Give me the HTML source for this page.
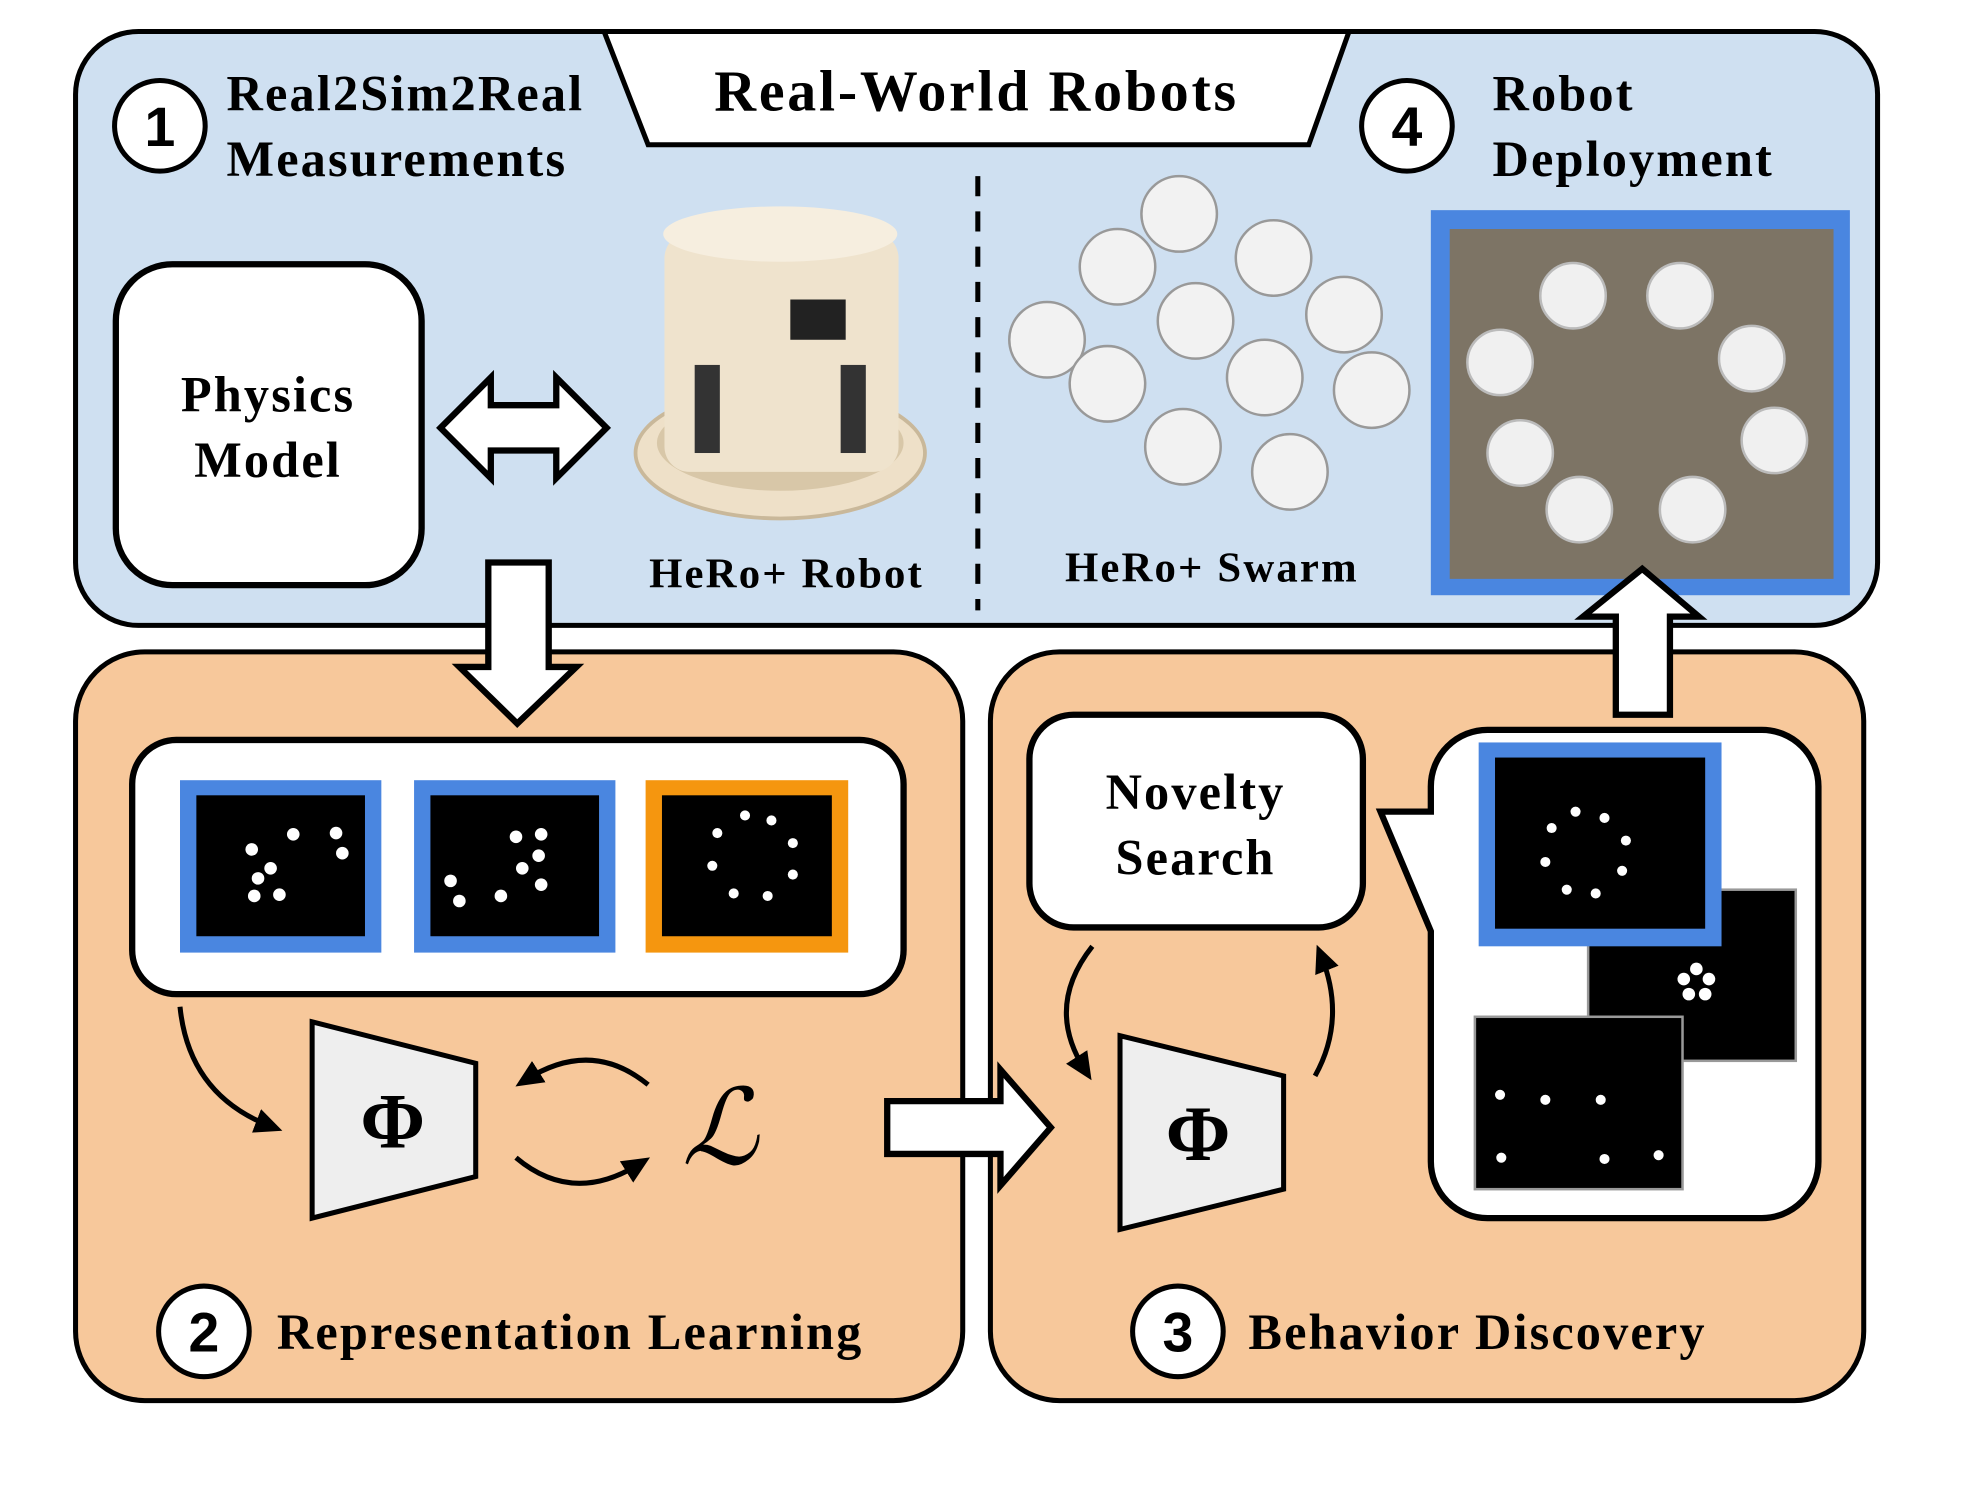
<!DOCTYPE html>
<html><head><meta charset="utf-8"><style>html,body{margin:0;padding:0;background:#fff}svg{display:block}text{letter-spacing:1.7px}</style></head>
<body>
<svg width="1972" height="1500" viewBox="0 0 1567 1192" xmlns="http://www.w3.org/2000/svg" font-family="'Liberation Serif',serif" font-weight="bold">
<defs>
<marker id="ah" markerWidth="22" markerHeight="20" refX="12" refY="10" orient="auto" markerUnits="userSpaceOnUse" viewBox="0 0 22 20"><path d="M0,0 L22,10 L0,20 Z" fill="#000"/></marker>
</defs>
<rect width="1567" height="1192" fill="#fff"/>
<!-- top panel -->
<rect x="60" y="25" width="1432" height="472" rx="50" fill="#cfe0f1" stroke="#000" stroke-width="4"/>
<polygon points="480,25 1072,25 1040,115 515,115" fill="#fff" stroke="#000" stroke-width="4"/>
<text x="776" y="88" font-size="46" text-anchor="middle" style="letter-spacing:2.2px">Real-World Robots</text>
<circle cx="127" cy="100" r="36" fill="#fff" stroke="#000" stroke-width="4"/>
<text x="127" y="116" font-size="44" text-anchor="middle" font-family="'Liberation Sans',sans-serif" style="letter-spacing:0">1</text>
<text x="180" y="88" font-size="40">Real2Sim2Real</text>
<text x="180" y="140" font-size="40">Measurements</text>
<circle cx="1118" cy="100" r="36" fill="#fff" stroke="#000" stroke-width="4"/>
<text x="1118" y="116" font-size="44" text-anchor="middle" font-family="'Liberation Sans',sans-serif" style="letter-spacing:0">4</text>
<text x="1186" y="88" font-size="40">Robot</text>
<text x="1186" y="140" font-size="40">Deployment</text>
<rect x="92" y="210" width="243" height="255" rx="45" fill="#fff" stroke="#000" stroke-width="5"/>
<text x="213" y="327" font-size="40" text-anchor="middle">Physics</text>
<text x="213" y="379" font-size="40" text-anchor="middle">Model</text>
<polygon points="350,340 390,300 390,322 442,322 442,300 482,340 442,380 442,358 390,358 390,380" fill="#fff" stroke="#000" stroke-width="5"/>
<!-- robot -->
<ellipse cx="620" cy="360" rx="115" ry="52" fill="#eee0c8" stroke="#c9b89a" stroke-width="3"/>
<ellipse cx="620" cy="352" rx="98" ry="38" fill="#d8c7a8"/>
<rect x="528" y="185" width="186" height="190" rx="20" fill="#efe3cd"/>
<ellipse cx="620" cy="186" rx="93" ry="22" fill="#f6eedf"/>
<rect x="552" y="290" width="20" height="70" fill="#333"/>
<rect x="668" y="290" width="20" height="70" fill="#333"/>
<rect x="628" y="238" width="44" height="32" fill="#222"/>
<text x="625" y="467" font-size="34" text-anchor="middle">HeRo+ Robot</text>
<line x1="777" y1="140" x2="777" y2="485" stroke="#000" stroke-width="4" stroke-dasharray="16,12"/>
<!-- swarm -->
<g fill="#f2f2f2" stroke="#999" stroke-width="2">
<circle cx="937" cy="170" r="30"/><circle cx="1012" cy="205" r="30"/><circle cx="888" cy="212" r="30"/>
<circle cx="950" cy="255" r="30"/><circle cx="1068" cy="250" r="30"/><circle cx="832" cy="270" r="30"/>
<circle cx="880" cy="305" r="30"/><circle cx="1005" cy="300" r="30"/><circle cx="1090" cy="310" r="30"/>
<circle cx="940" cy="355" r="30"/><circle cx="1025" cy="375" r="30"/>
</g>
<text x="963" y="462" font-size="34" text-anchor="middle">HeRo+ Swarm</text>
<rect x="1137" y="167" width="333" height="306" fill="#4a86e0"/>
<rect x="1152" y="182" width="305" height="278" fill="#7d7465"/>
<g fill="#f0f0f0" stroke="#bbb" stroke-width="2">
<circle cx="1250" cy="235" r="26"/><circle cx="1335" cy="235" r="26"/><circle cx="1392" cy="285" r="26"/>
<circle cx="1192" cy="288" r="26"/><circle cx="1410" cy="350" r="26"/><circle cx="1208" cy="360" r="26"/>
<circle cx="1255" cy="405" r="26"/><circle cx="1345" cy="405" r="26"/>
</g>
<!-- bottom left -->
<rect x="60" y="518" width="705" height="595" rx="55" fill="#f7c89b" stroke="#000" stroke-width="4"/>
<polygon points="388,447 436,447 436,530 458,530 411,575 365,530 388,530" fill="#fff" stroke="#000" stroke-width="5"/>
<rect x="105" y="588" width="613" height="202" rx="35" fill="#fff" stroke="#000" stroke-width="5"/>
<rect x="143" y="620" width="160" height="137" fill="#4a86e0"/><rect x="156" y="632" width="134" height="112" fill="#000"/>
<rect x="329" y="620" width="160" height="137" fill="#4a86e0"/><rect x="342" y="632" width="134" height="112" fill="#000"/>
<rect x="513" y="620" width="161" height="137" fill="#f5960f"/><rect x="526" y="632" width="135" height="112" fill="#000"/>
<g fill="#fff">
<circle cx="200" cy="675" r="5"/><circle cx="233" cy="663" r="5"/><circle cx="267" cy="662" r="5"/><circle cx="215" cy="690" r="5"/><circle cx="205" cy="698" r="5"/><circle cx="272" cy="678" r="5"/><circle cx="202" cy="712" r="5"/><circle cx="222" cy="711" r="5"/>
<circle cx="410" cy="665" r="5"/><circle cx="430" cy="663" r="5"/><circle cx="428" cy="680" r="5"/><circle cx="415" cy="690" r="5"/><circle cx="430" cy="703" r="5"/><circle cx="358" cy="700" r="5"/><circle cx="365" cy="716" r="5"/><circle cx="398" cy="712" r="5"/>
<circle cx="592" cy="648" r="4"/><circle cx="613" cy="652" r="4"/><circle cx="570" cy="662" r="4"/><circle cx="630" cy="670" r="4"/><circle cx="566" cy="688" r="4"/><circle cx="630" cy="695" r="4"/><circle cx="583" cy="710" r="4"/><circle cx="610" cy="712" r="4"/>
</g>
<polygon points="248,812 378,845 378,935 248,968" fill="#eee" stroke="#000" stroke-width="4"/>
<text x="312" y="912" font-size="62" text-anchor="middle" style="letter-spacing:0">Φ</text>
<path d="M143,800 Q150,870 215,895" fill="none" stroke="#000" stroke-width="4" marker-end="url(#ah)"/>
<path d="M515,862 Q470,825 418,858" fill="none" stroke="#000" stroke-width="4" marker-end="url(#ah)"/>
<path d="M410,920 Q455,958 508,925" fill="none" stroke="#000" stroke-width="4" marker-end="url(#ah)"/>
<text x="572" y="925" font-size="84" font-style="italic" font-weight="normal" text-anchor="middle" style="letter-spacing:0">ℒ</text>
<circle cx="162" cy="1058" r="36" fill="#fff" stroke="#000" stroke-width="4"/>
<text x="162" y="1074" font-size="44" text-anchor="middle" font-family="'Liberation Sans',sans-serif" style="letter-spacing:0">2</text>
<text x="220" y="1072" font-size="40">Representation Learning</text>
<!-- bottom right -->
<rect x="787" y="518" width="694" height="595" rx="55" fill="#f7c89b" stroke="#000" stroke-width="4"/>
<polygon points="705,875 795,875 795,850 835,896 795,942 795,917 705,917" fill="#fff" stroke="#000" stroke-width="5"/>
<rect x="818" y="568" width="265" height="169" rx="35" fill="#fff" stroke="#000" stroke-width="5"/>
<text x="950" y="643" font-size="40" text-anchor="middle">Novelty</text>
<text x="950" y="695" font-size="40" text-anchor="middle">Search</text>
<polygon points="890,823 1020,855 1020,945 890,977" fill="#eee" stroke="#000" stroke-width="4"/>
<text x="952" y="922" font-size="62" text-anchor="middle" style="letter-spacing:0">Φ</text>
<path d="M868,752 Q830,800 862,850" fill="none" stroke="#000" stroke-width="4" marker-end="url(#ah)"/>
<path d="M1045,855 Q1070,810 1050,760" fill="none" stroke="#000" stroke-width="4" marker-end="url(#ah)"/>
<path d="M1182,580 H1400 A45,45 0 0 1 1445,625 V923 A45,45 0 0 1 1400,968 H1182 A45,45 0 0 1 1137,923 V740 L1097,645 L1137,645 V625 A45,45 0 0 1 1182,580 Z" fill="#fff" stroke="#000" stroke-width="5"/>
<rect x="1262" y="707" width="165" height="136" fill="#000" stroke="#999" stroke-width="2"/>
<rect x="1172" y="808" width="165" height="137" fill="#000" stroke="#999" stroke-width="2"/>
<rect x="1175" y="590" width="193" height="162" fill="#4a86e0"/><rect x="1188" y="602" width="167" height="136" fill="#000"/>
<g fill="#fff">
<circle cx="1252" cy="645" r="4"/><circle cx="1275" cy="650" r="4"/><circle cx="1233" cy="658" r="4"/><circle cx="1292" cy="668" r="4"/><circle cx="1228" cy="685" r="4"/><circle cx="1289" cy="692" r="4"/><circle cx="1245" cy="707" r="4"/><circle cx="1268" cy="710" r="4"/>
<circle cx="1348" cy="770" r="5"/><circle cx="1338" cy="778" r="5"/><circle cx="1358" cy="778" r="5"/><circle cx="1342" cy="790" r="5"/><circle cx="1355" cy="790" r="5"/>
<circle cx="1192" cy="870" r="4"/><circle cx="1228" cy="874" r="4"/><circle cx="1272" cy="874" r="4"/><circle cx="1193" cy="920" r="4"/><circle cx="1275" cy="921" r="4"/><circle cx="1318" cy="918" r="4"/>
</g>
<polygon points="1284,568 1327,568 1327,490 1350,490 1305,452 1258,490 1284,490" fill="#fff" stroke="#000" stroke-width="5"/>
<circle cx="936" cy="1058" r="36" fill="#fff" stroke="#000" stroke-width="4"/>
<text x="936" y="1074" font-size="44" text-anchor="middle" font-family="'Liberation Sans',sans-serif" style="letter-spacing:0">3</text>
<text x="992" y="1072" font-size="40">Behavior Discovery</text>
</svg>
</body></html>
